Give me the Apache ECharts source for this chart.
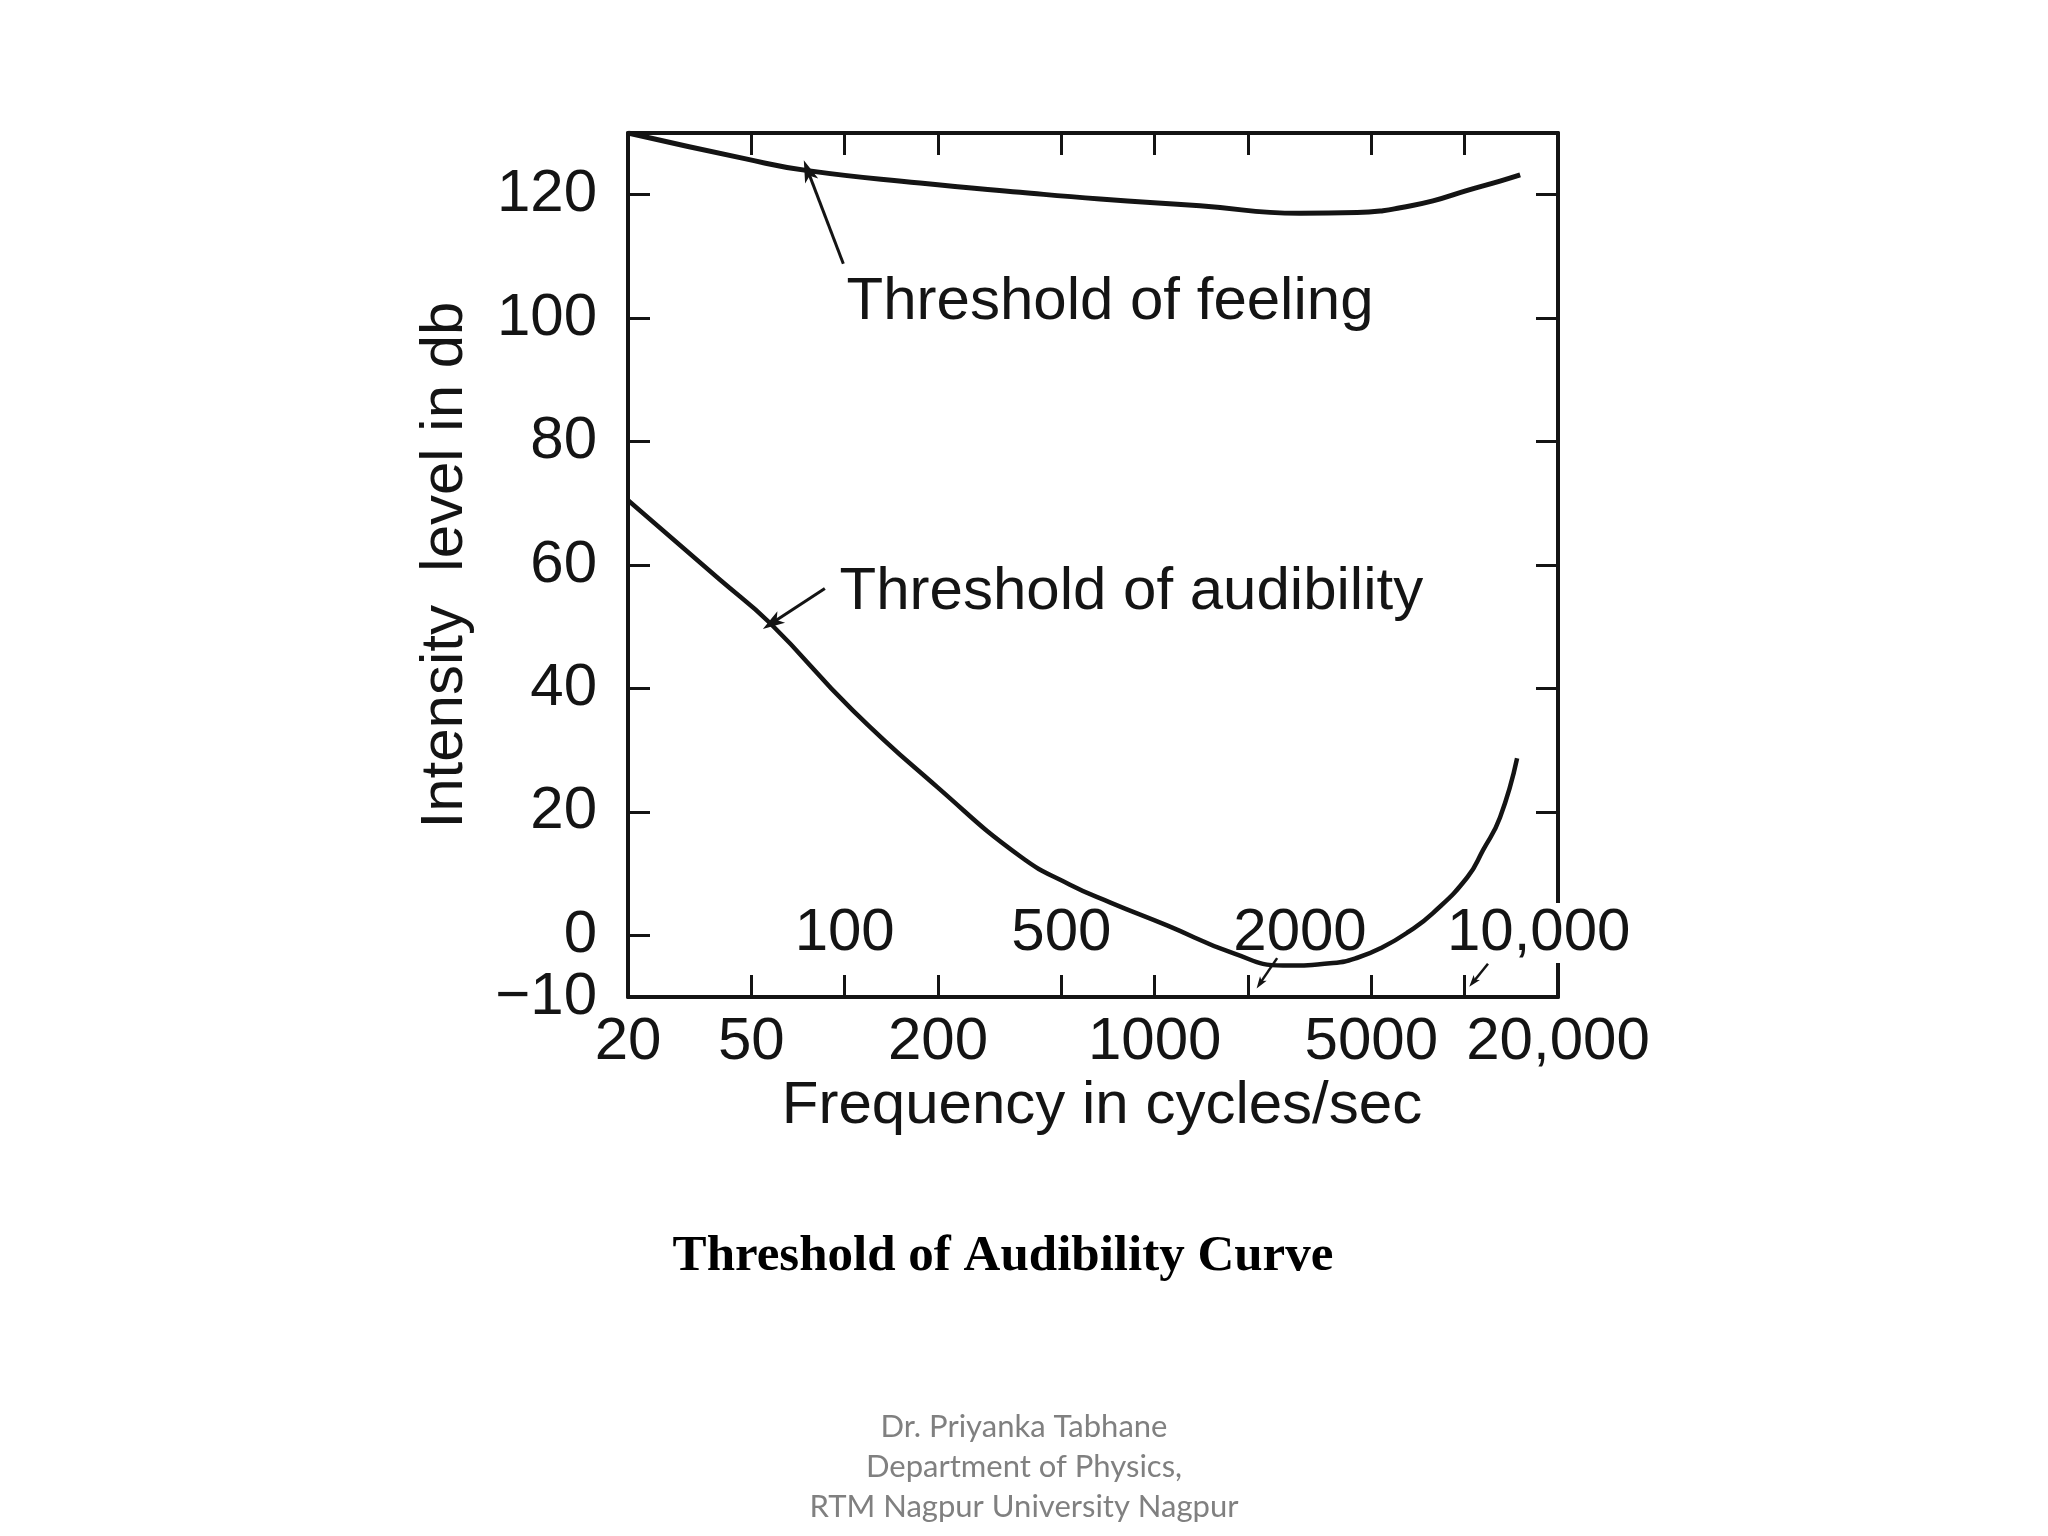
<!DOCTYPE html>
<html><head><meta charset="utf-8">
<script src="https://cdn.jsdelivr.net/npm/echarts@6/dist/echarts.min.js"></script>
<style>html,body{margin:0;padding:0;background:#fff}#c{width:2048px;height:1536px}</style>
</head><body><div id="c"></div>
<script>
// ---- data (frequency in cycles/sec, intensity level in db) ----
const feelingFreq = [20, 48, 76, 175, 368, 667, 1400, 2940, 4500, 5450, 6200, 7900, 10200, 13000, 15100];
const feelingDb   = [130, 125.8, 123.9, 121.9, 120.4, 119.3, 118.2, 117.0, 117.1, 117.4, 117.9, 119.0, 120.7, 122.2, 123.2];
const audFreq = [20, 39.6, 57.4, 106, 199, 368, 533, 720, 1096, 1790, 2595, 3760, 4530, 5450, 6560, 7900, 10200, 11460, 13000, 14760];
const audDb   = [70.5, 57.6, 50.6, 36.5, 24.0, 12.8, 8.2, 5.3, 1.6, -2.9, -4.9, -4.5, -3.6, -1.9, 0.5, 3.6, 9.4, 13.8, 19.1, 28.7];
const xTickFreqs = [50, 100, 200, 500, 1000, 2000, 5000, 10000];
const xLabelsBottom = [20, 50, 200, 1000, 5000, 20000];
const xLabelsInside = [100, 500, 2000];
const xLabelsInsideRight = [10000];
const yTicks = [0, 20, 40, 60, 80, 100, 120];
const yLabels = [-10, 0, 20, 40, 60, 80, 100, 120];
const yTicksRight = [20, 40, 60, 80, 100, 120];
const fMin = 20, fMax = 20000, dbMin = -10, dbMax = 130;
// annotation anchors [freq, db]
const feelingLabelAt = [101, 102.6];
const audLabelAt = [95.9, 55.5];
const feelingArrow = [[99, 108.8], [76, 123.9]];
const audArrow = [[86.3, 56.2], [58.3, 50.6]];
const arrow2000 = [[2483, -3.7], [2186, -7.8]];
const arrow10000 = [[11890, -4.6], [10640, -7.6]];

const L = v => Math.log10(v);
const INK = '#141414';
const FONT = 'Liberation Sans';
const fmtF = v => { const f = Math.round(Math.pow(10, v)); return f >= 10000 ? String(f).replace(/(\d+)(\d{3})$/, '$1,$2') : String(f); };
const pt = a => [L(a[0]), a[1]];
const arrowPath = 'path://M0,-10 L7,6 L0,2 L-7,6 Z';

const chart = echarts.init(document.getElementById('c'), null, {renderer: 'canvas'});
const commonX = {type: 'value', min: L(fMin), max: L(fMax), splitLine: {show: false}, gridIndex: 0};
const insideLabelBase = {show: true, inside: true, margin: 34, showMinLabel: true, showMaxLabel: true, hideOverlap: false};
chart.setOption({
  animation: false,
  backgroundColor: '#fff',
  title: [
    {text: 'Threshold of Audibility Curve', left: 998, top: 1226, textAlign: 'center',
     textStyle: {fontFamily: 'Liberation Serif', fontWeight: 'bold', fontSize: 51, color: '#000'}},
    {text: 'Dr. Priyanka Tabhane\nDepartment of Physics,\nRTM Nagpur University Nagpur', left: 1019, top: 1402, textAlign: 'center',
     textStyle: {fontFamily: 'Lato', fontWeight: 'normal', fontSize: 31, lineHeight: 40, color: '#808080', align: 'center'}}
  ],
  grid: {left: 628, right: 2048 - 1558, top: 133, bottom: 1536 - 997, containLabel: false},
  xAxis: [
    Object.assign({}, commonX, {
      position: 'bottom',
      name: 'Frequency in cycles/sec', nameLocation: 'middle', nameGap: 77,
      nameTextStyle: {fontFamily: FONT, fontSize: 60, color: INK, padding: [0, 0, 0, 18]},
      axisLine: {show: true, onZero: false, lineStyle: {color: INK, width: 4}},
      axisTick: {show: true, inside: true, length: 22, lineStyle: {color: INK, width: 3}, customValues: xTickFreqs.map(L)},
      axisLabel: {show: true, margin: 15, showMinLabel: true, showMaxLabel: true, fontFamily: FONT, fontSize: 60, color: INK, customValues: xLabelsBottom.map(L), formatter: fmtF}
    }),
    Object.assign({}, commonX, {
      position: 'bottom', z: 1,
      axisLine: {show: false, onZero: false},
      axisTick: {show: false},
      axisLabel: Object.assign({}, insideLabelBase, {customValues: xLabelsInside.map(L),
        formatter: v => { const f = Math.round(Math.pow(10, v)); return f === 2000 ? '{sp| }{n|2000}' : '{n|' + f + '}'; },
        rich: {
          sp: {width: 104, fontSize: 60},
          n: {fontFamily: FONT, fontSize: 60, color: INK}
        }})
    }),
    Object.assign({}, commonX, {
      position: 'top',
      axisLine: {show: true, onZero: false, lineStyle: {color: INK, width: 4}},
      axisTick: {show: true, inside: true, length: 22, lineStyle: {color: INK, width: 3}, customValues: xTickFreqs.map(L)},
      axisLabel: {show: false}
    }),
    Object.assign({}, commonX, {
      position: 'bottom', z: 1,
      axisLine: {show: false, onZero: false},
      axisTick: {show: false},
      axisLabel: Object.assign({}, insideLabelBase, {customValues: xLabelsInsideRight.map(L),
        formatter: v => '{sp| }{t|' + fmtF(v) + '}',
        rich: {
          sp: {width: 148, fontSize: 60},
          t: {fontFamily: FONT, fontSize: 60, color: INK, backgroundColor: '#fff', padding: [0, 2, 0, 2]}
        }})
    })
  ],
  yAxis: [
    {type: 'value', min: dbMin, max: dbMax, position: 'left', splitLine: {show: false},
     name: 'Intensity  level in db', nameLocation: 'middle', nameGap: 153, nameRotate: 90,
     nameTextStyle: {fontFamily: FONT, fontSize: 60, color: INK},
     axisLine: {show: true, onZero: false, lineStyle: {color: INK, width: 4}},
     axisTick: {show: true, inside: true, length: 22, lineStyle: {color: INK, width: 3}, customValues: yTicks},
     axisLabel: {show: true, margin: 31, showMinLabel: true, showMaxLabel: true, fontFamily: FONT, fontSize: 60, color: INK, customValues: yLabels,
       formatter: v => v < 0 ? '\u2212' + Math.abs(v) : String(v)}},
    {type: 'value', min: dbMin, max: dbMax, position: 'right', splitLine: {show: false},
     axisLine: {show: true, onZero: false, lineStyle: {color: INK, width: 4}},
     axisTick: {show: true, inside: true, length: 22, lineStyle: {color: INK, width: 3}, customValues: yTicksRight},
     axisLabel: {show: false}}
  ],
  series: [
    {name: 'Threshold of feeling', type: 'line', xAxisIndex: 0, yAxisIndex: 0, smooth: 0.5, showSymbol: false, silent: true, z: 3,
     lineStyle: {color: INK, width: 5},
     data: feelingFreq.map((f, i) => [L(f), feelingDb[i]]),
     markPoint: {silent: true, symbol: 'circle', symbolSize: 1, itemStyle: {color: 'rgba(0,0,0,0)'},
       label: {show: true, position: 'right', distance: 0, fontFamily: FONT, fontSize: 60, color: INK, formatter: 'Threshold of feeling'},
       data: [{coord: pt(feelingLabelAt)}]},
     markLine: {silent: true, symbol: ['none', arrowPath], symbolSize: [14, 22], label: {show: false},
       lineStyle: {color: INK, width: 3, type: 'solid', curveness: 0.15},
       data: [[{coord: pt(feelingArrow[0])}, {coord: pt(feelingArrow[1])}]]}
    },
    {name: 'Threshold of audibility', type: 'line', xAxisIndex: 0, yAxisIndex: 0, smooth: 0.5, showSymbol: false, silent: true, z: 3,
     lineStyle: {color: INK, width: 4.5},
     data: audFreq.map((f, i) => [L(f), audDb[i]]),
     markPoint: {silent: true, symbol: 'circle', symbolSize: 1, itemStyle: {color: 'rgba(0,0,0,0)'},
       label: {show: true, position: 'right', distance: 0, fontFamily: FONT, fontSize: 60, color: INK, formatter: 'Threshold of audibility'},
       data: [{coord: pt(audLabelAt)}]},
     markLine: {silent: true, symbol: ['none', arrowPath], symbolSize: [14, 22], label: {show: false},
       lineStyle: {color: INK, width: 3, type: 'solid', curveness: 0.15},
       data: [
         [{coord: pt(audArrow[0])}, {coord: pt(audArrow[1])}],
         [{coord: pt(arrow2000[0]), symbolSize: [8, 12], lineStyle: {curveness: 0, width: 2.5}}, {coord: pt(arrow2000[1]), symbolSize: [8, 12]}],
         [{coord: pt(arrow10000[0]), symbolSize: [8, 12], lineStyle: {curveness: 0, width: 2.5}}, {coord: pt(arrow10000[1]), symbolSize: [8, 12]}]
       ]}
    }
  ]
});
</script></body></html>
